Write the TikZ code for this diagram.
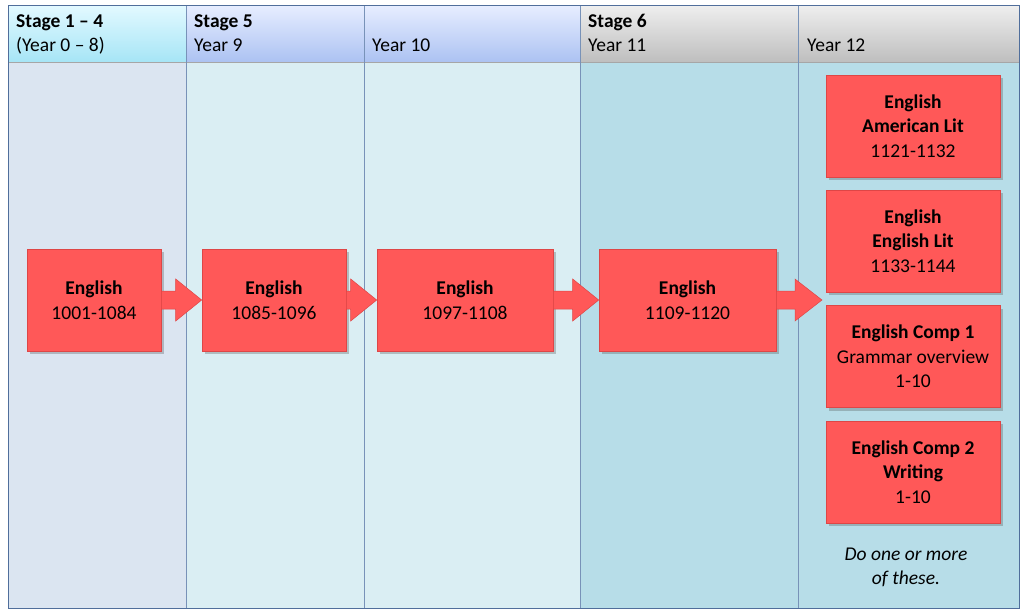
\documentclass[tikz,border=0pt]{standalone}
\usepackage{fontspec}
\setmainfont{Carlito}
\usetikzlibrary{calc,shadows}
\definecolor{boxred}{RGB}{255,88,88}
\definecolor{boxedge}{RGB}{222,70,70}
\definecolor{bodyA}{RGB}{219,229,241}
\definecolor{bodyB}{RGB}{218,238,243}
\definecolor{bodyC}{RGB}{183,221,232}
\definecolor{gridline}{RGB}{120,146,184}
\definecolor{frameline}{RGB}{80,110,155}
\tikzset{
  course/.style={draw=boxedge, line width=0.6pt, fill=boxred, align=center,
    inner sep=0pt, font=\fontsize{19.5}{24.5}\selectfont,
    drop shadow={shadow xshift=3pt, shadow yshift=-3pt, opacity=0.3, fill=black!70}},
  hdrtext/.style={anchor=base west, inner sep=0pt, font=\fontsize{19.5}{24}\selectfont},
  notetext/.style={anchor=base, inner sep=0pt, font=\fontsize{19.5}{24}\selectfont\itshape},
  arrowfill/.style={fill=boxred, draw=boxedge, line width=0.5pt}
}
\newcommand\blockarrow[3]{% from node, to point, head length
  \filldraw[arrowfill] ($(#1.east)+(0,-9)$) -- ($(#2)+(-#3,-9)$) -- ($(#2)+(-#3,-21)$) -- (#2)
    -- ($(#2)+(-#3,21)$) -- ($(#2)+(-#3,9)$) -- ($(#1.east)+(0,9)$) -- cycle;}
\begin{document}
\begin{tikzpicture}[x=1pt,y=-1pt]
\useasboundingbox (0,0) rectangle (1024,610);
\fill[white] (0,0) rectangle (1024,610);
% body columns
\fill[bodyA] (8,62) rectangle (186,608);
\fill[bodyB] (186,62) rectangle (580,608);
\fill[bodyC] (580,62) rectangle (1019,608);
% header cells
\shade[top color={rgb,255:red,226;green,249;blue,255}, bottom color={rgb,255:red,166;green,229;blue,246}] (8,6) rectangle (186,62);
\shade[top color={rgb,255:red,230;green,237;blue,255}, bottom color={rgb,255:red,172;green,194;blue,242}] (186,6) rectangle (580,62);
\shade[top color={rgb,255:red,238;green,238;blue,238}, bottom color={rgb,255:red,190;green,190;blue,190}] (580,6) rectangle (1019,62);
\draw[black!35, line width=1.2pt] (8,62.5) -- (1019,62.5);
% separators
\foreach \xx in {186,364,580,798} {
  \draw[gridline, line width=0.9pt] (\xx,6) -- (\xx,608);
}
\draw[frameline, line width=1pt] (8,6) rectangle (1019,608);
% header texts
\node[hdrtext, font=\fontsize{19.5}{24}\selectfont\bfseries] (h1a) at (16,28) {Stage 1 – 4};
\node[hdrtext] (h1b) at (16,52) {(Year 0 – 8)};
\node[hdrtext, font=\fontsize{19.5}{24}\selectfont\bfseries] (h2a) at (194,28) {Stage 5};
\node[hdrtext] (h2b) at (194,52) {Year 9};
\node[hdrtext] (h3b) at (372,52) {Year 10};
\node[hdrtext, font=\fontsize{19.5}{24}\selectfont\bfseries] (h4a) at (588,28) {Stage 6};
\node[hdrtext] (h4b) at (588,52) {Year 11};
\node[hdrtext] (h5b) at (807,52) {Year 12};
% main chain
\node[course, minimum width=134pt, minimum height=102pt] (b1) at (94,300) {\textbf{English}\\1001-1084};
\node[course, minimum width=144pt, minimum height=102pt] (b2) at (274,300) {\textbf{English}\\1085-1096};
\node[course, minimum width=176pt, minimum height=102pt] (b3) at (465,300) {\textbf{English}\\1097-1108};
\node[course, minimum width=177pt, minimum height=102pt] (b4) at (687.5,300) {\textbf{English}\\1109-1120};
% year 12 options
\node[course, minimum width=174pt, minimum height=102pt] (o1) at (913,126) {\textbf{English}\\\textbf{American Lit}\\1121-1132};
\node[course, minimum width=174pt, minimum height=102pt] (o2) at (913,241) {\textbf{English}\\\textbf{English Lit}\\1133-1144};
\node[course, minimum width=174pt, minimum height=102pt] (o3) at (913,356.5) {\textbf{English Comp 1}\\Grammar overview\\1-10};
\node[course, minimum width=174pt, minimum height=102pt] (o4) at (913,472) {\textbf{English Comp 2}\\\textbf{Writing}\\1-10};
\coordinate (end) at (822,300);
% arrows
\blockarrow{b1}{b2.west}{26}
\blockarrow{b2}{b3.west}{26}
\blockarrow{b3}{b4.west}{26}
\blockarrow{b4}{end}{27}
% note
\node[notetext] (note1) at (906,560) {Do one or more};
\node[notetext] (note2) at (906,584) {of these.};
\end{tikzpicture}
\end{document}
